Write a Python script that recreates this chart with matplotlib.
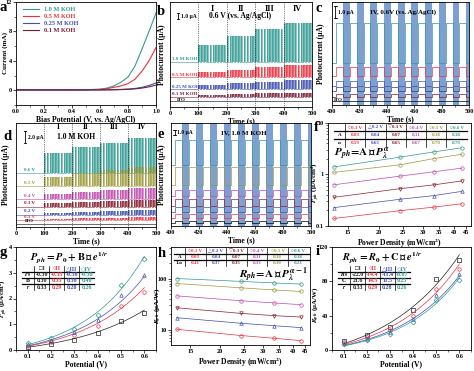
import numpy as np
import matplotlib
matplotlib.use('Agg')
import matplotlib.pyplot as plt
from matplotlib.ticker import AutoMinorLocator, NullFormatter, NullLocator

W, H = 474, 371

plt.rcParams['font.family'] = ['Liberation Serif', 'DejaVu Sans']
plt.rcParams['font.weight'] = 'bold'
plt.rcParams['axes.labelweight'] = 'bold'
plt.rcParams['mathtext.fontset'] = 'stix'
plt.rcParams['axes.linewidth'] = 0.6
plt.rcParams['xtick.major.width'] = 0.5
plt.rcParams['ytick.major.width'] = 0.5
plt.rcParams['xtick.minor.width'] = 0.4
plt.rcParams['ytick.minor.width'] = 0.4
plt.rcParams['xtick.major.size'] = 2
plt.rcParams['ytick.major.size'] = 2
plt.rcParams['xtick.minor.size'] = 1.2
plt.rcParams['ytick.minor.size'] = 1.2
plt.rcParams['xtick.major.pad'] = 1
plt.rcParams['ytick.major.pad'] = 1
plt.rcParams['xtick.labelsize'] = 4.5
plt.rcParams['ytick.labelsize'] = 4.5
plt.rcParams['axes.labelsize'] = 5.5
plt.rcParams['axes.labelpad'] = 1

TEAL = '#2f9a92'
RED = '#e8323f'
BLUE = '#3d4fb0'
MAROON = '#7b1e35'
OLIVE = '#9c9a3a'
MAGENTA = '#c04aae'
DKRED = '#8a1f2b'
BAND = '#7096cc'

# ---- panel a: current vs bias
bias_v = [0.0, 0.1, 0.2, 0.3, 0.4, 0.5, 0.6, 0.65, 0.7, 0.75, 0.8, 0.85, 0.9, 0.95, 1.0]
cur_10 = [0.05, 0.05, 0.05, 0.05, 0.06, 0.08, 0.15, 0.3, 0.6, 1.1, 1.8, 3.3, 5.6, 8.0, 10.5]
cur_05 = [0.05, 0.05, 0.05, 0.05, 0.05, 0.07, 0.12, 0.22, 0.4, 0.6, 0.9, 1.5, 2.6, 4.0, 5.8]
cur_025 = [0.05, 0.05, 0.05, 0.05, 0.05, 0.05, 0.06, 0.07, 0.09, 0.12, 0.17, 0.25, 0.4, 0.65, 1.0]
cur_01 = [0.05, 0.05, 0.05, 0.05, 0.05, 0.05, 0.05, 0.06, 0.07, 0.09, 0.13, 0.19, 0.3, 0.47, 0.7]
conc_labels = ['1.0 M KOH', '0.5 M KOH', '0.25 M KOH', '0.1 M KOH']

# ---- panel b: photocurrent steps, 0.6 V (base level, on-levels for I..IV)
b_names = ['1.0 M KOH', '0.5 M KOH', '0.25 M KOH', '0.1 M KOH', 'ITO']
b_base = [6.85, 4.5, 2.7, 1.6, 0.85]
b_high = [[9.45, 10.85, 11.85, 12.85],
          [5.35, 5.7, 6.1, 6.35],
          [3.35, 3.6, 3.85, 4.1],
          [1.9, 2.0, 2.1, 2.2],
          [0.9, 0.92, 0.94, 0.96]]
b_colors = [TEAL, RED, BLUE, MAROON, 'black']

# ---- panel c: zoom 400-500 s, IV
c_low = [3.61, 2.5, 1.62, 1.19, 0.64, 0.36]
c_high = [6.94, 3.25, 2.08, 1.55, 0.92, 0.38]
c_colors = [TEAL, RED, BLUE, '#2b3a8a', MAROON, 'black']

# ---- panel d: photocurrent steps, 1.0 M KOH
d_names = ['0.6 V', '0.5 V', '0.4 V', '0.3 V', '0.2 V', '0.1 V', 'ITO']
d_base = [9.14, 6.97, 4.69, 3.43, 2.11, 1.14, 0.46]
d_high = [[12.57, 13.54, 14.29, 15.14],
          [8.57, 9.14, 9.71, 10.29],
          [5.6, 6.0, 6.29, 6.57],
          [4.0, 4.17, 4.4, 4.57],
          [2.4, 2.51, 2.69, 2.86],
          [1.37, 1.49, 1.6, 1.71],
          [0.5, 0.52, 0.54, 0.56]]
d_colors = [TEAL, OLIVE, MAGENTA, DKRED, BLUE, RED, 'black']

# ---- panel e: zoom 400-500 s, 1.0 M KOH
e_low = [12.2, 8.2, 5.9, 4.0, 2.7, 1.5, 0.6]
e_high = [17.2, 11.7, 7.2, 5.3, 3.7, 2.4, 0.9]

# ---- panels f, h: power law
power = [13.2, 24.3, 33.4, 43.1]
volt_labels = ['0.1 V', '0.2 V', '0.3 V', '0.4 V', '0.5 V', '0.6 V']
volt_colors = [RED, BLUE, DKRED, MAGENTA, OLIVE, TEAL]
volt_markers = ['o', '^', 'v', 'o', 'o', 'o']
volt_symbols = ['○', '△', '▽', '○', '○', '○']
pph = [[0.14, 0.198, 0.233, 0.27],
       [0.227, 0.33, 0.39, 0.47],
       [0.36, 0.53, 0.63, 0.75],
       [0.63, 0.93, 1.13, 1.33],
       [1.1, 1.54, 2.04, 2.47],
       [1.4, 2.17, 2.75, 3.3]]
rph = [[10.3, 7.8, 6.9, 6.2],
       [17.3, 13.5, 12.1, 11.1],
       [27.0, 21.0, 19.0, 17.8],
       [46.0, 37.0, 33.5, 31.0],
       [80.0, 66.0, 60.0, 56.0],
       [100.0, 88.0, 82.0, 78.0]]
fit_A = ['0.03', '0.04', '0.07', '0.11', '0.18', '0.18']
fit_alpha = ['0.59', '0.63', '0.65', '0.67', '0.70', '0.79']
fit_1ma = ['0.41', '0.37', '0.35', '0.33', '0.30', '0.21']

# ---- panels g, i: exponential fits
pot = [0.1, 0.2, 0.3, 0.4, 0.5, 0.6]
stage_labels = ['I', 'II', 'III', 'IV']
stage_colors = ['#222222', RED, BLUE, TEAL]
stage_markers = ['s', 'o', '^', 'D']
stage_symbols = ['□', '○', '△', '◇']
g_vals = [[0.13, 0.22, 0.37, 0.65, 1.13, 1.44],
          [0.17, 0.30, 0.57, 0.95, 1.69, 2.27],
          [0.22, 0.40, 0.68, 1.17, 2.12, 2.92],
          [0.27, 0.47, 0.80, 1.36, 2.52, 3.52]]
g_P0 = [-0.30, -0.35, -0.38, -0.38]
g_B = [0.30, 0.35, 0.38, 0.40]
g_r = [0.33, 0.29, 0.28, 0.26]
i_vals = [[10, 17, 27, 47, 83, 105],
          [9, 15, 23.4, 40, 71, 94],
          [8, 13, 21.5, 36, 64.5, 88],
          [7, 11.5, 18.4, 32.5, 58.6, 82]]
i_R0 = ['-22.0', '-14.4', '-11.4', '-8.87']
i_C = ['21.6', '14.5', '11.5', '9.25']
i_r = [0.33, 0.29, 0.28, 0.26]


def rect(x0, y0, x1, y1):
    return [x0 / W, 1 - y1 / H, (x1 - x0) / W, (y1 - y0) / H]


def pulse_trace(base, highs, t_start, t_first, period, on_len, n_per_seg):
    t = [t_start, t_first]
    y = [base, base]
    for seg, hi in enumerate(highs):
        for k in range(n_per_seg):
            s = t_first + (seg * n_per_seg + k) * period
            t += [s, s, s + on_len, s + on_len, s + period]
            y += [base, hi, hi, base, base]
    return np.array(t), np.array(y)


def scale_bar(ax, x, y0, y1, label, dx):
    ax.plot([x, x], [y0, y1], color='black', lw=0.6)
    ax.plot([x - dx, x + dx], [y0, y0], color='black', lw=0.6)
    ax.plot([x - dx, x + dx], [y1, y1], color='black', lw=0.6)
    ax.text(x + 2.5 * dx, (y0 + y1) / 2, label, fontsize=4, va='center')


fig = plt.figure(figsize=(W / 100, H / 100), dpi=100)

# ---------------- a
ax = fig.add_axes(rect(16, 2, 156, 105))
for vals, col, lab in zip([cur_10, cur_05, cur_025, cur_01], [TEAL, RED, BLUE, MAROON], conc_labels):
    ax.plot(bias_v, vals, color=col, lw=0.8, label=lab)
ax.set_xlim(0, 1)
ax.set_ylim(-2, 12)
ax.set_xticks([0, 0.2, 0.4, 0.6, 0.8, 1.0])
ax.set_yticks([0, 4, 8, 12])
ax.xaxis.set_minor_locator(AutoMinorLocator(2))
ax.yaxis.set_minor_locator(AutoMinorLocator(2))
ax.set_xlabel('Bias Potential (V, vs. Ag/AgCl)')
ax.set_ylabel('Current (mA)', fontsize=5)
ax.yaxis.set_label_coords(-0.06, 0.5)
leg = ax.legend(loc='upper left', fontsize=4.5, frameon=False, handlelength=2.6,
                borderaxespad=0.3, labelspacing=0.3, bbox_to_anchor=(0.02, 1.0))
for txt, col in zip(leg.get_texts(), [TEAL, RED, BLUE, MAROON]):
    txt.set_color(col)

# ---------------- b
ax = fig.add_axes(rect(170, 2, 312, 107))
for base, highs, col in zip(b_base, b_high, b_colors):
    t, y = pulse_trace(base, highs, 0, 100, 10, 5, 10)
    ax.fill_between(t, base, y, color=col, alpha=0.75, lw=0)
    ax.plot(t, y, color=col, lw=0.4)
for xv in [100, 200, 300, 400]:
    ax.axvline(xv, color='black', lw=0.5, ls=':')
for xv, lab in zip([150, 250, 350, 450], ['I', 'II', 'III', 'IV']):
    ax.text(xv, 15.0, lab, fontsize=6, ha='center', va='center')
ax.text(245, 13.8, '0.6 V (vs. Ag/AgCl)', fontsize=5.5, ha='center', va='center')
name_y = [7.35, 4.95, 3.1, 2.0, 1.1]
for name, col, yy in zip(b_names, b_colors, name_y):
    ax.text(6 if name != 'ITO' else 25, yy, name, fontsize=3.6, color=col, va='center')
scale_bar(ax, 28, 13.35, 14.35, '1.0 μA', 4)
ax.set_xlim(0, 500)
ax.set_ylim(0, 16)
ax.set_xticks([0, 100, 200, 300, 400, 500])
ax.xaxis.set_minor_locator(AutoMinorLocator(2))
ax.set_yticks([])
ax.set_xlabel('Time (s)')
ax.set_ylabel('Photocurrent (μA)')
ax.yaxis.set_label_coords(-0.028, 0.5)

# ---------------- c
ax = fig.add_axes(rect(332, 2, 469, 105))
for k in range(10):
    ax.axvspan(408 + 10 * k, 413 + 10 * k, color=BAND, lw=0, alpha=0.9)
for lo, hi, col in zip(c_low, c_high, c_colors):
    t, y = pulse_trace(lo, [hi], 400, 403, 10, 5, 10)
    ax.plot(t, y, color=col, lw=0.5)
scale_bar(ax, 402.5, 7.4, 8.4, '1.0 μA', 0.8)
ax.text(452, 7.85, 'IV, 0.6V (vs. Ag/AgCl)', fontsize=5, ha='center', va='center')
ax.text(401.5, 0.45, 'ITO', fontsize=3.6, va='center')
ax.set_xlim(400, 500)
ax.set_ylim(0, 8.75)
ax.set_xticks([400, 420, 440, 460, 480, 500])
ax.xaxis.set_minor_locator(AutoMinorLocator(2))
ax.set_yticks([])
ax.set_xlabel('Time (s)')
ax.set_ylabel('Photocurrent (μA)')
ax.yaxis.set_label_coords(-0.051, 0.5)

# ---------------- d
ax = fig.add_axes(rect(16, 123, 156, 227))
for base, highs, col in zip(d_base, d_high, d_colors):
    t, y = pulse_trace(base, highs, 0, 100, 10, 5, 10)
    ax.fill_between(t, base, y, color=col, alpha=0.75, lw=0)
    ax.plot(t, y, color=col, lw=0.4)
for xv in [100, 200, 300, 400]:
    ax.axvline(xv, color='black', lw=0.5, ls=':')
for xv, lab in zip([150, 250, 350, 450], ['I', 'II', 'III', 'IV']):
    ax.text(xv, 16.95, lab, fontsize=5.5, ha='center', va='center')
ax.text(215, 15.35, '1.0 M KOH', fontsize=5.5, ha='center', va='center')
for name, col, base in zip(d_names, d_colors, d_base):
    ax.text(30, base + 0.25, name, fontsize=3.6, color=col, va='bottom')
scale_bar(ax, 32, 14.3, 16.3, '2.0 μA', 4)
ax.set_xlim(0, 500)
ax.set_ylim(0, 17.7)
ax.set_xticks([0, 100, 200, 300, 400, 500])
ax.xaxis.set_minor_locator(AutoMinorLocator(2))
ax.set_yticks([])
ax.set_xlabel('Time (s)')
ax.set_ylabel('Photocurrent (μA)')
ax.yaxis.set_label_coords(-0.043, 0.5)

# ---------------- e
ax = fig.add_axes(rect(171, 123, 311, 226))
for k in range(10):
    ax.axvspan(408 + 10 * k, 413 + 10 * k, color=BAND, lw=0, alpha=0.9)
for lo, hi, col in zip(e_low, e_high, d_colors):
    t, y = pulse_trace(lo, [hi], 400, 403, 10, 5, 10)
    ax.plot(t, y, color=col, lw=0.5)
scale_bar(ax, 402.5, 18.2, 19.2, '1.0 μA', 0.8)
ax.text(452, 18.6, 'IV, 1.0 M KOH', fontsize=5, ha='center', va='center')
ax.set_xlim(400, 500)
ax.set_ylim(0, 20.5)
ax.set_xticks([400, 420, 440, 460, 480, 500])
ax.xaxis.set_minor_locator(AutoMinorLocator(2))
ax.set_yticks([])
ax.set_xlabel('Time (s)')
ax.set_ylabel('Photocurrent (μA)')
ax.yaxis.set_label_coords(-0.036, 0.5)


def power_axis(ax):
    ax.set_xscale('log')
    ax.set_yscale('log')
    ax.set_xlim(12.5, 47)
    ax.set_xticks([15, 20, 25, 30, 35, 40, 45])
    ax.set_xticklabels(['15', '20', '25', '30', '35', '40', '45'])
    ax.xaxis.set_minor_locator(NullLocator())
    ax.set_xlabel('Power Density (mW/cm$^2$)')


def col_table(ax, x0, x1, lab_w, ys, header, rows, colors, fs=4):
    ncol = len(header)
    cw = (x1 - x0 - lab_w) / ncol
    tr = ax.transAxes
    for j, (h, col) in enumerate(zip(header, colors)):
        cx = x0 + lab_w + cw * (j + 0.5)
        ax.text(cx, ys[0], h, color=col, fontsize=fs, ha='center', va='center', transform=tr)
        for r, row in enumerate(rows):
            ax.text(cx, ys[r + 1], row[1][j], color=col, fontsize=fs, ha='center', va='center', transform=tr)
    for r, row in enumerate(rows):
        ax.text(x0 + lab_w / 2, ys[r + 1], row[0], fontsize=fs, ha='center', va='center', transform=tr)
    step = ys[0] - ys[1]
    top = ys[0] + step / 2
    bot = ys[-1] - step / 2
    for r in range(len(rows)):
        yl = ys[r] - step / 2
        ax.plot([x0, x1], [yl, yl], color='black', lw=0.9, transform=tr, clip_on=False)
    for j in range(ncol):
        xl = x0 + lab_w + cw * j
        ax.plot([xl, xl], [bot, top], color='black', lw=0.5, transform=tr, clip_on=False)


# ---------------- f
ax = fig.add_axes(rect(328, 123, 471, 226))
for vals, col, mk in zip(pph, volt_colors, volt_markers):
    ax.plot(power, vals, color=col, lw=0.5, marker=mk, ms=2.5, mfc='none', mew=0.5)
power_axis(ax)
ax.set_ylim(0.1, 10)
ax.set_yticks([0.1, 1, 10])
ax.set_yticklabels(['0.1', '1', '10'])
ax.yaxis.set_minor_formatter(NullFormatter())
ax.set_ylabel('$P_{ph}$ (μA/cm$^2$)', fontsize=5)
ax.yaxis.set_label_coords(-0.048, 0.42)
col_table(ax, 0.04, 0.97, 0.08, [0.955, 0.88, 0.805],
          [s + l for s, l in zip(volt_symbols, volt_labels)],
          [('A', fit_A), ('α', fit_alpha)], volt_colors, fs=3.6)
ax.text(0.04, 0.70, r'$P_{ph}\!=\!\mathbf{A}\cdot P_{\lambda}^{\alpha}$', fontsize=8, transform=ax.transAxes, va='center')

# ---------------- g
Vfit = np.linspace(0.1, 0.6, 60)
ax = fig.add_axes(rect(16, 247, 156, 350))
for vals, col, mk, p0, b, r in zip(g_vals, stage_colors, stage_markers, g_P0, g_B, g_r):
    ax.plot(pot, vals, ls='none', marker=mk, ms=2.5, mfc='none', mec=col, mew=0.5)
    ax.plot(Vfit, p0 + b * np.exp(Vfit / r), color=col, lw=0.5)
ax.set_xlim(0.05, 0.65)
ax.set_ylim(0, 4)
ax.set_xticks(pot)
ax.set_yticks([0, 1, 2, 3, 4])
ax.xaxis.set_minor_locator(AutoMinorLocator(2))
ax.yaxis.set_minor_locator(AutoMinorLocator(2))
ax.set_xlabel('Potential (V)')
ax.set_ylabel('$P_{ph}$ (μA/cm$^2$)', fontsize=4.8)
ax.yaxis.set_label_coords(-0.048, 0.5)
col_table(ax, 0.04, 0.56, 0.09, [0.79, 0.73, 0.67, 0.61],
          [s + l for s, l in zip(stage_symbols, stage_labels)],
          [('$P_0$', ['%.2f' % v for v in g_P0]), ('B', ['%.2f' % v for v in g_B]),
           ('$r$', ['%.2f' % v for v in g_r])], stage_colors, fs=4.2)
ax.text(0.1, 0.9, r'$P_{ph}=P_0+\mathbf{B}\cdot e^{1/r}$', fontsize=7.5, transform=ax.transAxes, va='center')

# ---------------- h
ax = fig.add_axes(rect(171, 247, 310, 345))
for vals, col, mk in zip(rph, volt_colors, volt_markers):
    ax.plot(power, vals, color=col, lw=0.5, marker=mk, ms=2.5, mfc='none', mew=0.5)
power_axis(ax)
ax.set_ylim(5.1, 410)
ax.set_yticks([10, 100])
ax.set_yticklabels(['10', '100'])
ax.yaxis.set_minor_formatter(NullFormatter())
ax.set_ylabel('$R_{ph}$ (μA/W)', fontsize=5)
ax.yaxis.set_label_coords(-0.06, 0.4)
col_table(ax, 0.02, 0.99, 0.08, [0.955, 0.895, 0.835],
          [s + l for s, l in zip(volt_symbols, volt_labels)],
          [('A', fit_A), ('1-α', fit_1ma)], volt_colors, fs=3.6)
ax.text(0.98, 0.71, r'$R_{ph}\!=\!\mathbf{A}\cdot P_{\lambda}^{\alpha-1}$', fontsize=8, transform=ax.transAxes,
        va='center', ha='right')

# ---------------- i
ax = fig.add_axes(rect(332, 247, 471, 350))
i_R0_num = [float(v) for v in i_R0]
i_C_num = [float(v) for v in i_C]
for vals, col, mk, r0, c, r in zip(i_vals, stage_colors, stage_markers, i_R0_num, i_C_num, i_r):
    ax.plot(pot, vals, ls='none', marker=mk, ms=2.5, mfc='none', mec=col, mew=0.5)
    ax.plot(Vfit, r0 + c * np.exp(Vfit / r), color=col, lw=0.5)
ax.set_xlim(0.05, 0.65)
ax.set_ylim(0, 120)
ax.set_xticks(pot)
ax.set_yticks([0, 40, 80, 120])
ax.xaxis.set_minor_locator(AutoMinorLocator(2))
ax.yaxis.set_minor_locator(AutoMinorLocator(2))
ax.set_xlabel('Potential (V)')
ax.set_ylabel('$R_{ph}$ (μA/W)', fontsize=5)
ax.yaxis.set_label_coords(-0.078, 0.44)
col_table(ax, 0.04, 0.56, 0.09, [0.79, 0.73, 0.67, 0.61],
          [s + l for s, l in zip(stage_symbols, stage_labels)],
          [('$R_0$', i_R0), ('C', i_C), ('$r$', ['%.2f' % v for v in i_r])], stage_colors, fs=4.2)
ax.text(0.07, 0.9, r'$R_{ph}=R_0+\mathbf{C}\cdot e^{1/r}$', fontsize=7.5, transform=ax.transAxes, va='center')

# panel letters
for lab, (px, py) in zip('abcdefghi', [(0, 11), (157, 15), (315, 12), (3, 140), (157, 138),
                                      (314, 131), (0, 256), (158, 257), (316, 255)]):
    fig.text(px / W, 1 - py / H, lab, fontsize=10.5, fontweight='bold', va='baseline')

fig.savefig('out.png', dpi=100)
